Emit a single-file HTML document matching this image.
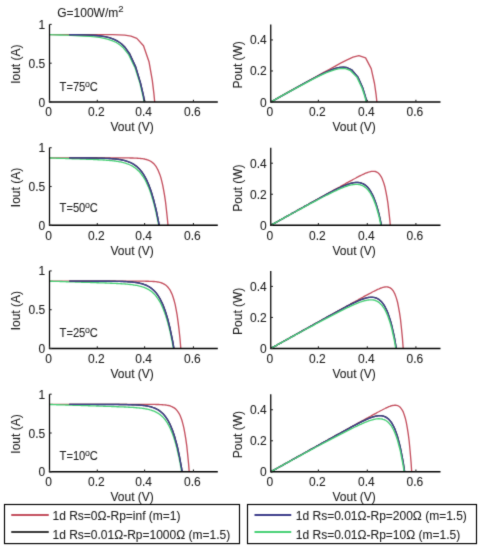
<!DOCTYPE html><html><head><meta charset="utf-8"><style>
html,body{margin:0;padding:0;background:#fff;}svg{display:block;}
text{font-family:"Liberation Sans",Arial,sans-serif;font-size:12px;fill:#1c1c1c;stroke:#1c1c1c;stroke-width:0.08px;}
</style></head><body>
<svg width="480" height="550" viewBox="0 0 480 550">
<defs><filter id="bl" x="0" y="0" width="480" height="550" filterUnits="userSpaceOnUse" color-interpolation-filters="sRGB"><feConvolveMatrix order="3" kernelMatrix="0.02 0.08 0.02 0.08 0.6 0.08 0.02 0.08 0.02" edgeMode="duplicate"/></filter></defs>
<rect width="480" height="550" fill="#fff"/>
<g filter="url(#bl)">
<rect width="480" height="550" fill="#fff"/>
<path d="M49.5,34.6 54.7,34.6 59.9,34.6 66.9,34.6 75.5,34.6 84.2,34.6 91.2,34.6 96.9,34.6 101.6,34.6 107.4,34.6 112.6,34.6 118.7,34.8 124.7,35.1 131.0,36.1 136.8,38.4 143.5,45.8 149.0,61.7 152.3,80.4 153.9,93.6 154.7,102.0" fill="none" stroke="#c4505f" stroke-width="1.35" stroke-linejoin="round"/>
<path d="M49.5,34.6 54.7,34.8 59.9,35.0 66.7,35.2 75.2,35.6 83.5,36.0 90.0,36.4 95.2,36.9 99.4,37.4 104.2,38.3 108.2,39.3 112.6,40.8 116.3,42.5 120.0,45.0 123.5,48.1 128.7,54.6 134.9,67.4 139.9,83.0 142.6,94.5 144.2,102.0" fill="none" stroke="#49d177" stroke-width="1.35" stroke-linejoin="round"/>
<path d="M69.2,34.6 75.5,34.7 84.1,34.9 90.8,35.1 96.2,35.5 100.5,35.9 105.5,36.7 109.7,37.7 114.1,39.3 117.8,41.2 121.4,43.8 124.9,47.1 129.8,54.0 135.8,67.1 140.5,82.9 143.2,94.4 144.7,102.0" fill="none" stroke="#383838" stroke-width="1.35" stroke-linejoin="round"/>
<path d="M69.2,34.7 75.5,34.7 84.1,34.9 90.8,35.2 96.2,35.5 100.5,36.0 105.5,36.8 109.6,37.8 114.0,39.4 117.7,41.3 121.4,43.8 124.8,47.2 129.7,54.0 135.7,67.1 140.5,82.9 143.2,94.4 144.7,102.0" fill="none" stroke="#3f3f8c" stroke-width="1.35" stroke-linejoin="round"/>
<path d="M49.50,24.40 V102.00" fill="none" stroke="#000" stroke-width="1.25"/>
<path d="M48.90,102.00 H217.80" fill="none" stroke="#000" stroke-width="1.5"/>
<path d="M49.50,102.00 V99.80" stroke="#2a2a2a" stroke-width="1.1"/>
<text x="48.50" y="116.30" text-anchor="middle">0</text>
<path d="M97.30,102.00 V99.80" stroke="#2a2a2a" stroke-width="1.1"/>
<text x="96.30" y="116.30" text-anchor="middle">0.2</text>
<path d="M144.60,102.00 V99.80" stroke="#2a2a2a" stroke-width="1.1"/>
<text x="143.60" y="116.30" text-anchor="middle">0.4</text>
<path d="M193.45,102.00 V99.80" stroke="#2a2a2a" stroke-width="1.1"/>
<text x="192.45" y="116.30" text-anchor="middle">0.6</text>
<path d="M49.50,102.00 H51.70" stroke="#2a2a2a" stroke-width="1.1"/>
<text x="45.30" y="106.50" text-anchor="end">0</text>
<path d="M49.50,63.20 H51.70" stroke="#2a2a2a" stroke-width="1.1"/>
<text x="45.30" y="67.70" text-anchor="end">0.5</text>
<path d="M49.50,24.40 H51.70" stroke="#2a2a2a" stroke-width="1.1"/>
<text x="45.30" y="28.90" text-anchor="end">1</text>
<text x="132.15" y="131.20" text-anchor="middle">Vout (V)</text>
<text transform="translate(20.20,64.20) rotate(-90)" text-anchor="middle">Iout (A)</text>
<path d="M270.8,102.0 276.0,99.1 281.3,96.1 288.3,92.2 297.0,87.3 305.8,82.5 312.8,78.6 318.5,75.4 323.3,72.7 329.1,69.5 334.4,66.6 340.6,63.2 346.6,60.1 353.0,57.2 358.9,55.7 365.6,57.9 371.2,68.6 374.5,83.5 376.1,94.7 376.9,102.0" fill="none" stroke="#c4505f" stroke-width="1.35" stroke-linejoin="round"/>
<path d="M270.8,102.0 276.0,99.1 281.3,96.1 288.3,92.2 297.0,87.4 305.6,82.6 312.5,78.9 317.9,76.1 322.3,73.9 327.3,71.5 331.5,69.7 335.9,68.2 339.7,67.4 343.3,67.1 346.8,67.5 351.7,69.8 357.8,76.9 362.6,87.5 365.3,96.1 366.8,102.0" fill="none" stroke="#383838" stroke-width="1.35" stroke-linejoin="round"/>
<path d="M270.8,102.0 276.0,99.1 281.3,96.1 288.3,92.3 297.0,87.4 305.6,82.7 312.4,79.0 317.9,76.1 322.2,73.9 327.2,71.6 331.4,69.8 335.9,68.3 339.6,67.4 343.3,67.1 346.8,67.6 351.7,69.9 357.8,76.9 362.6,87.5 365.3,96.1 366.8,102.0" fill="none" stroke="#3f3f8c" stroke-width="1.35" stroke-linejoin="round"/>
<path d="M270.8,102.0 276.0,99.1 281.2,96.2 288.1,92.4 296.6,87.8 305.1,83.3 311.6,79.8 316.9,77.2 321.1,75.2 325.9,72.9 330.0,71.3 334.4,69.8 338.2,68.9 341.9,68.4 345.5,68.7 350.6,70.7 357.0,77.4 361.9,87.7 364.7,96.1 366.3,102.0" fill="none" stroke="#49d177" stroke-width="1.35" stroke-linejoin="round"/>
<path d="M270.75,24.40 V102.00" fill="none" stroke="#000" stroke-width="1.25"/>
<path d="M270.15,102.00 H440.50" fill="none" stroke="#000" stroke-width="1.5"/>
<path d="M270.75,102.00 V99.80" stroke="#2a2a2a" stroke-width="1.1"/>
<text x="269.75" y="116.30" text-anchor="middle">0</text>
<path d="M318.40,102.00 V99.80" stroke="#2a2a2a" stroke-width="1.1"/>
<text x="317.40" y="116.30" text-anchor="middle">0.2</text>
<path d="M367.30,102.00 V99.80" stroke="#2a2a2a" stroke-width="1.1"/>
<text x="366.30" y="116.30" text-anchor="middle">0.4</text>
<path d="M415.90,102.00 V99.80" stroke="#2a2a2a" stroke-width="1.1"/>
<text x="414.90" y="116.30" text-anchor="middle">0.6</text>
<path d="M270.75,102.00 H272.95" stroke="#2a2a2a" stroke-width="1.1"/>
<text x="266.80" y="106.50" text-anchor="end">0</text>
<path d="M270.75,70.96 H272.95" stroke="#2a2a2a" stroke-width="1.1"/>
<text x="266.80" y="75.46" text-anchor="end">0.2</text>
<path d="M270.75,39.92 H272.95" stroke="#2a2a2a" stroke-width="1.1"/>
<text x="266.80" y="44.42" text-anchor="end">0.4</text>
<text x="354.12" y="131.20" text-anchor="middle">Vout (V)</text>
<text transform="translate(242.00,64.80) rotate(-90)" text-anchor="middle">Pout (W)</text>
<text transform="translate(59.6,90.50) scale(0.93,1)">T=75<tspan dy="-3.6" font-size="9.5px" dx="-0.3">o</tspan><tspan dy="3.6" dx="-0.2">C</tspan></text>
<path d="M49.5,157.9 50.5,157.9 51.4,157.9 52.4,157.9 53.3,157.9 54.3,157.9 55.3,157.9 56.2,157.9 57.2,157.9 58.1,157.9 59.1,157.9 60.1,157.9 61.0,157.9 62.0,157.9 62.9,157.9 63.9,157.9 64.8,157.9 65.8,157.9 66.8,157.9 67.7,157.9 68.7,157.9 69.6,157.9 70.6,157.9 71.6,157.9 72.5,157.9 73.5,157.9 74.4,157.9 75.4,157.9 76.4,157.9 77.3,157.9 78.3,157.9 79.2,157.9 80.2,157.9 81.2,157.9 82.1,157.9 83.1,157.9 84.0,157.9 85.0,157.9 85.9,157.9 86.9,157.9 87.9,157.9 88.8,157.9 89.8,157.9 90.7,157.9 91.7,157.9 92.7,157.9 93.6,157.9 94.6,157.9 95.5,157.9 96.5,157.9 97.5,157.9 98.4,157.9 99.4,157.9 100.3,157.9 101.3,157.9 102.3,157.9 103.2,157.9 104.2,157.9 105.1,157.9 106.1,157.9 107.1,157.9 108.0,157.9 109.0,157.9 109.9,157.9 110.9,157.9 111.8,157.9 112.8,157.9 113.8,157.9 114.7,157.9 115.7,157.9 116.6,157.9 117.6,157.9 118.6,157.9 119.5,157.9 120.5,157.9 121.4,157.9 122.4,157.9 123.4,157.9 124.3,157.9 125.3,157.9 126.2,157.9 127.2,157.9 128.2,157.9 129.1,157.9 130.1,158.0 131.0,158.0 132.0,158.0 133.0,158.0 133.9,158.1 134.9,158.1 135.8,158.1 136.8,158.2 137.7,158.2 138.7,158.3 139.7,158.4 140.6,158.5 141.6,158.6 142.5,158.7 143.5,158.9 144.5,159.0 145.4,159.3 146.4,159.5 147.3,159.8 148.3,160.2 149.3,160.6 150.2,161.0 151.2,161.6 152.1,162.3 153.1,163.1 154.1,164.0 155.0,165.1 156.0,166.4 156.9,168.0 157.9,169.8 158.8,171.9 159.8,174.4 160.8,177.4 161.7,180.9 162.7,185.1 163.6,189.9 164.6,195.7 165.6,202.5 166.5,210.5 167.5,220.0 168.0,225.3" fill="none" stroke="#c4505f" stroke-width="1.35" stroke-linejoin="round"/>
<path d="M49.5,157.9 50.5,158.0 51.4,158.0 52.4,158.0 53.3,158.1 54.3,158.1 55.3,158.1 56.2,158.2 57.2,158.2 58.1,158.2 59.1,158.2 60.1,158.3 61.0,158.3 62.0,158.3 62.9,158.4 63.9,158.4 64.8,158.4 65.8,158.5 66.8,158.5 67.7,158.5 68.7,158.6 69.6,158.6 70.6,158.6 71.6,158.7 72.5,158.7 73.5,158.7 74.4,158.8 75.4,158.8 76.4,158.8 77.3,158.9 78.3,158.9 79.2,158.9 80.2,159.0 81.2,159.0 82.1,159.0 83.1,159.1 84.0,159.1 85.0,159.1 85.9,159.2 86.9,159.2 87.9,159.2 88.8,159.3 89.8,159.3 90.7,159.4 91.7,159.4 92.7,159.4 93.6,159.5 94.6,159.5 95.5,159.6 96.5,159.6 97.5,159.7 98.4,159.7 99.4,159.8 100.3,159.8 101.3,159.9 102.3,159.9 103.2,160.0 104.2,160.0 105.1,160.1 106.1,160.2 107.1,160.2 108.0,160.3 109.0,160.4 109.9,160.5 110.9,160.6 111.8,160.7 112.8,160.8 113.8,160.9 114.7,161.0 115.7,161.1 116.6,161.3 117.6,161.4 118.6,161.6 119.5,161.8 120.5,161.9 121.4,162.1 122.4,162.4 123.4,162.6 124.3,162.9 125.3,163.1 126.2,163.4 127.2,163.8 128.2,164.1 129.1,164.5 130.1,165.0 131.0,165.4 132.0,165.9 133.0,166.5 133.9,167.1 134.9,167.8 135.8,168.5 136.8,169.3 137.7,170.2 138.7,171.1 139.7,172.1 140.6,173.2 141.6,174.5 142.5,175.8 143.5,177.2 144.5,178.8 145.4,180.5 146.4,182.4 147.3,184.4 148.3,186.6 149.3,189.0 150.2,191.6 151.2,194.4 152.1,197.5 153.1,200.7 154.1,204.3 155.0,208.1 156.0,212.1 156.9,216.5 157.9,221.2 158.7,225.3" fill="none" stroke="#49d177" stroke-width="1.35" stroke-linejoin="round"/>
<path d="M69.2,157.9 70.1,157.9 71.1,157.9 72.0,157.9 73.0,157.9 74.0,157.9 74.9,157.9 75.9,157.9 76.8,157.9 77.8,157.9 78.8,157.9 79.7,157.9 80.7,157.9 81.6,157.9 82.6,157.9 83.6,157.9 84.5,157.9 85.5,157.9 86.4,157.9 87.4,157.9 88.3,157.9 89.3,158.0 90.3,158.0 91.2,158.0 92.2,158.0 93.1,158.0 94.1,158.0 95.1,158.0 96.0,158.0 97.0,158.0 97.9,158.1 98.9,158.1 99.9,158.1 100.8,158.1 101.8,158.2 102.7,158.2 103.7,158.2 104.7,158.2 105.6,158.3 106.6,158.3 107.5,158.4 108.5,158.4 109.5,158.5 110.4,158.5 111.4,158.6 112.3,158.7 113.3,158.7 114.2,158.8 115.2,158.9 116.2,159.0 117.1,159.1 118.1,159.2 119.0,159.4 120.0,159.5 121.0,159.7 121.9,159.9 122.9,160.1 123.8,160.3 124.8,160.5 125.8,160.8 126.7,161.1 127.7,161.4 128.6,161.8 129.6,162.1 130.6,162.6 131.5,163.0 132.5,163.5 133.4,164.1 134.4,164.7 135.3,165.4 136.3,166.1 137.3,166.9 138.2,167.8 139.2,168.8 140.1,169.8 141.1,171.0 142.1,172.2 143.0,173.6 144.0,175.1 144.9,176.7 145.9,178.5 146.9,180.5 147.8,182.6 148.8,184.8 149.7,187.3 150.7,190.0 151.7,192.9 152.6,196.1 153.6,199.5 154.5,203.1 155.5,207.1 156.5,211.3 157.4,215.9 158.4,220.8 159.2,225.3" fill="none" stroke="#383838" stroke-width="1.35" stroke-linejoin="round"/>
<path d="M69.2,157.9 70.1,157.9 71.1,157.9 72.0,157.9 73.0,157.9 74.0,157.9 74.9,157.9 75.9,157.9 76.8,157.9 77.8,157.9 78.8,157.9 79.7,157.9 80.7,158.0 81.6,158.0 82.6,158.0 83.6,158.0 84.5,158.0 85.5,158.0 86.4,158.0 87.4,158.0 88.3,158.0 89.3,158.0 90.3,158.0 91.2,158.0 92.2,158.0 93.1,158.1 94.1,158.1 95.1,158.1 96.0,158.1 97.0,158.1 97.9,158.1 98.9,158.1 99.9,158.2 100.8,158.2 101.8,158.2 102.7,158.2 103.7,158.3 104.7,158.3 105.6,158.4 106.6,158.4 107.5,158.4 108.5,158.5 109.5,158.5 110.4,158.6 111.4,158.7 112.3,158.7 113.3,158.8 114.2,158.9 115.2,159.0 116.2,159.1 117.1,159.2 118.1,159.3 119.0,159.5 120.0,159.6 121.0,159.8 121.9,160.0 122.9,160.2 123.8,160.4 124.8,160.6 125.8,160.9 126.7,161.2 127.7,161.5 128.6,161.9 129.6,162.3 130.6,162.7 131.5,163.1 132.5,163.7 133.4,164.2 134.4,164.8 135.3,165.5 136.3,166.2 137.3,167.0 138.2,167.9 139.2,168.9 140.1,169.9 141.1,171.1 142.1,172.3 143.0,173.7 144.0,175.2 144.9,176.9 145.9,178.6 146.9,180.6 147.8,182.7 148.8,185.0 149.7,187.5 150.7,190.1 151.7,193.1 152.6,196.2 153.6,199.6 154.5,203.3 155.5,207.2 156.5,211.5 157.4,216.0 158.4,220.9 159.2,225.3" fill="none" stroke="#3f3f8c" stroke-width="1.35" stroke-linejoin="round"/>
<path d="M49.50,147.70 V225.30" fill="none" stroke="#000" stroke-width="1.25"/>
<path d="M48.90,225.30 H217.80" fill="none" stroke="#000" stroke-width="1.5"/>
<path d="M49.50,225.30 V223.10" stroke="#2a2a2a" stroke-width="1.1"/>
<text x="48.50" y="239.60" text-anchor="middle">0</text>
<path d="M97.30,225.30 V223.10" stroke="#2a2a2a" stroke-width="1.1"/>
<text x="96.30" y="239.60" text-anchor="middle">0.2</text>
<path d="M144.60,225.30 V223.10" stroke="#2a2a2a" stroke-width="1.1"/>
<text x="143.60" y="239.60" text-anchor="middle">0.4</text>
<path d="M193.45,225.30 V223.10" stroke="#2a2a2a" stroke-width="1.1"/>
<text x="192.45" y="239.60" text-anchor="middle">0.6</text>
<path d="M49.50,225.30 H51.70" stroke="#2a2a2a" stroke-width="1.1"/>
<text x="45.30" y="229.80" text-anchor="end">0</text>
<path d="M49.50,186.50 H51.70" stroke="#2a2a2a" stroke-width="1.1"/>
<text x="45.30" y="191.00" text-anchor="end">0.5</text>
<path d="M49.50,147.70 H51.70" stroke="#2a2a2a" stroke-width="1.1"/>
<text x="45.30" y="152.20" text-anchor="end">1</text>
<text x="132.15" y="254.50" text-anchor="middle">Vout (V)</text>
<text transform="translate(20.20,187.50) rotate(-90)" text-anchor="middle">Iout (A)</text>
<path d="M270.8,225.3 271.7,224.8 272.7,224.2 273.7,223.7 274.6,223.1 275.6,222.6 276.6,222.1 277.5,221.5 278.5,221.0 279.5,220.4 280.4,219.9 281.4,219.4 282.4,218.8 283.3,218.3 284.3,217.7 285.3,217.2 286.2,216.7 287.2,216.1 288.2,215.6 289.1,215.0 290.1,214.5 291.1,214.0 292.0,213.4 293.0,212.9 294.0,212.4 294.9,211.8 295.9,211.3 296.9,210.7 297.9,210.2 298.8,209.7 299.8,209.1 300.8,208.6 301.7,208.0 302.7,207.5 303.7,207.0 304.6,206.4 305.6,205.9 306.6,205.3 307.5,204.8 308.5,204.3 309.5,203.7 310.4,203.2 311.4,202.6 312.4,202.1 313.3,201.6 314.3,201.0 315.3,200.5 316.2,199.9 317.2,199.4 318.2,198.9 319.2,198.3 320.1,197.8 321.1,197.2 322.1,196.7 323.0,196.2 324.0,195.6 325.0,195.1 325.9,194.6 326.9,194.0 327.9,193.5 328.8,192.9 329.8,192.4 330.8,191.9 331.7,191.3 332.7,190.8 333.7,190.2 334.6,189.7 335.6,189.2 336.6,188.6 337.5,188.1 338.5,187.5 339.5,187.0 340.4,186.5 341.4,185.9 342.4,185.4 343.4,184.9 344.3,184.3 345.3,183.8 346.3,183.2 347.2,182.7 348.2,182.2 349.2,181.6 350.1,181.1 351.1,180.6 352.1,180.1 353.0,179.5 354.0,179.0 355.0,178.5 355.9,178.0 356.9,177.4 357.9,176.9 358.8,176.4 359.8,175.9 360.8,175.5 361.7,175.0 362.7,174.5 363.7,174.1 364.6,173.6 365.6,173.2 366.6,172.8 367.6,172.5 368.5,172.1 369.5,171.9 370.5,171.6 371.4,171.4 372.4,171.3 373.4,171.3 374.3,171.4 375.3,171.5 376.3,171.9 377.2,172.3 378.2,173.0 379.2,173.9 380.1,175.1 381.1,176.6 382.1,178.5 383.0,180.9 384.0,183.8 385.0,187.3 385.9,191.6 386.9,196.9 387.9,203.2 388.8,210.9 389.8,220.0 390.3,225.3" fill="none" stroke="#c4505f" stroke-width="1.35" stroke-linejoin="round"/>
<path d="M270.8,225.3 271.7,224.8 272.7,224.2 273.7,223.7 274.6,223.1 275.6,222.6 276.6,222.1 277.5,221.5 278.5,221.0 279.5,220.4 280.4,219.9 281.4,219.4 282.4,218.8 283.3,218.3 284.3,217.7 285.3,217.2 286.2,216.7 287.2,216.1 288.2,215.6 289.1,215.1 290.1,214.5 291.1,214.0 292.0,213.4 293.0,212.9 294.0,212.4 294.9,211.8 295.9,211.3 296.9,210.7 297.9,210.2 298.8,209.7 299.8,209.1 300.8,208.6 301.7,208.0 302.7,207.5 303.7,207.0 304.6,206.4 305.6,205.9 306.6,205.4 307.5,204.8 308.5,204.3 309.5,203.7 310.4,203.2 311.4,202.7 312.4,202.1 313.3,201.6 314.3,201.1 315.3,200.5 316.2,200.0 317.2,199.5 318.2,198.9 319.2,198.4 320.1,197.9 321.1,197.3 322.1,196.8 323.0,196.3 324.0,195.8 325.0,195.2 325.9,194.7 326.9,194.2 327.9,193.7 328.8,193.2 329.8,192.6 330.8,192.1 331.7,191.6 332.7,191.1 333.7,190.6 334.6,190.1 335.6,189.6 336.6,189.2 337.5,188.7 338.5,188.2 339.5,187.7 340.4,187.3 341.4,186.8 342.4,186.4 343.4,186.0 344.3,185.6 345.3,185.2 346.3,184.8 347.2,184.5 348.2,184.1 349.2,183.8 350.1,183.5 351.1,183.2 352.1,183.0 353.0,182.8 354.0,182.6 355.0,182.5 355.9,182.4 356.9,182.4 357.9,182.4 358.8,182.5 359.8,182.6 360.8,182.9 361.7,183.2 362.7,183.6 363.7,184.0 364.6,184.6 365.6,185.3 366.6,186.2 367.6,187.1 368.5,188.3 369.5,189.5 370.5,191.0 371.4,192.7 372.4,194.5 373.4,196.6 374.3,198.9 375.3,201.5 376.3,204.4 377.2,207.5 378.2,211.0 379.2,214.8 380.1,219.0 381.1,223.5 381.5,225.3" fill="none" stroke="#383838" stroke-width="1.35" stroke-linejoin="round"/>
<path d="M270.8,225.3 271.7,224.8 272.7,224.2 273.7,223.7 274.6,223.1 275.6,222.6 276.6,222.1 277.5,221.5 278.5,221.0 279.5,220.4 280.4,219.9 281.4,219.4 282.4,218.8 283.3,218.3 284.3,217.8 285.3,217.2 286.2,216.7 287.2,216.1 288.2,215.6 289.1,215.1 290.1,214.5 291.1,214.0 292.0,213.4 293.0,212.9 294.0,212.4 294.9,211.8 295.9,211.3 296.9,210.7 297.9,210.2 298.8,209.7 299.8,209.1 300.8,208.6 301.7,208.1 302.7,207.5 303.7,207.0 304.6,206.4 305.6,205.9 306.6,205.4 307.5,204.8 308.5,204.3 309.5,203.8 310.4,203.2 311.4,202.7 312.4,202.2 313.3,201.6 314.3,201.1 315.3,200.6 316.2,200.0 317.2,199.5 318.2,199.0 319.2,198.4 320.1,197.9 321.1,197.4 322.1,196.8 323.0,196.3 324.0,195.8 325.0,195.3 325.9,194.7 326.9,194.2 327.9,193.7 328.8,193.2 329.8,192.7 330.8,192.2 331.7,191.7 332.7,191.2 333.7,190.7 334.6,190.2 335.6,189.7 336.6,189.2 337.5,188.7 338.5,188.3 339.5,187.8 340.4,187.3 341.4,186.9 342.4,186.5 343.4,186.1 344.3,185.6 345.3,185.3 346.3,184.9 347.2,184.5 348.2,184.2 349.2,183.9 350.1,183.6 351.1,183.3 352.1,183.1 353.0,182.9 354.0,182.7 355.0,182.6 355.9,182.5 356.9,182.5 357.9,182.5 358.8,182.6 359.8,182.7 360.8,183.0 361.7,183.3 362.7,183.6 363.7,184.1 364.6,184.7 365.6,185.4 366.6,186.3 367.6,187.2 368.5,188.4 369.5,189.6 370.5,191.1 371.4,192.8 372.4,194.6 373.4,196.7 374.3,199.0 375.3,201.6 376.3,204.5 377.2,207.6 378.2,211.1 379.2,214.9 380.1,219.1 381.1,223.6 381.4,225.3" fill="none" stroke="#3f3f8c" stroke-width="1.35" stroke-linejoin="round"/>
<path d="M270.8,225.3 271.7,224.8 272.7,224.2 273.7,223.7 274.6,223.1 275.6,222.6 276.6,222.1 277.5,221.5 278.5,221.0 279.5,220.5 280.4,219.9 281.4,219.4 282.4,218.9 283.3,218.3 284.3,217.8 285.3,217.3 286.2,216.7 287.2,216.2 288.2,215.7 289.1,215.2 290.1,214.6 291.1,214.1 292.0,213.6 293.0,213.0 294.0,212.5 294.9,212.0 295.9,211.5 296.9,210.9 297.9,210.4 298.8,209.9 299.8,209.4 300.8,208.8 301.7,208.3 302.7,207.8 303.7,207.3 304.6,206.8 305.6,206.2 306.6,205.7 307.5,205.2 308.5,204.7 309.5,204.2 310.4,203.6 311.4,203.1 312.4,202.6 313.3,202.1 314.3,201.6 315.3,201.1 316.2,200.6 317.2,200.1 318.2,199.5 319.2,199.0 320.1,198.5 321.1,198.0 322.1,197.5 323.0,197.0 324.0,196.5 325.0,196.0 325.9,195.5 326.9,195.0 327.9,194.6 328.8,194.1 329.8,193.6 330.8,193.1 331.7,192.6 332.7,192.2 333.7,191.7 334.6,191.2 335.6,190.8 336.6,190.3 337.5,189.9 338.5,189.4 339.5,189.0 340.4,188.6 341.4,188.2 342.4,187.8 343.4,187.4 344.3,187.0 345.3,186.7 346.3,186.3 347.2,186.0 348.2,185.7 349.2,185.4 350.1,185.2 351.1,184.9 352.1,184.8 353.0,184.6 354.0,184.5 355.0,184.4 355.9,184.3 356.9,184.3 357.9,184.4 358.8,184.5 359.8,184.7 360.8,185.0 361.7,185.3 362.7,185.7 363.7,186.3 364.6,186.9 365.6,187.6 366.6,188.5 367.6,189.5 368.5,190.6 369.5,192.0 370.5,193.5 371.4,195.1 372.4,197.0 373.4,199.1 374.3,201.5 375.3,204.1 376.3,206.9 377.2,210.1 378.2,213.6 379.2,217.4 380.1,221.6 380.9,225.3" fill="none" stroke="#49d177" stroke-width="1.35" stroke-linejoin="round"/>
<path d="M270.75,147.70 V225.30" fill="none" stroke="#000" stroke-width="1.25"/>
<path d="M270.15,225.30 H440.50" fill="none" stroke="#000" stroke-width="1.5"/>
<path d="M270.75,225.30 V223.10" stroke="#2a2a2a" stroke-width="1.1"/>
<text x="269.75" y="239.60" text-anchor="middle">0</text>
<path d="M318.40,225.30 V223.10" stroke="#2a2a2a" stroke-width="1.1"/>
<text x="317.40" y="239.60" text-anchor="middle">0.2</text>
<path d="M367.30,225.30 V223.10" stroke="#2a2a2a" stroke-width="1.1"/>
<text x="366.30" y="239.60" text-anchor="middle">0.4</text>
<path d="M415.90,225.30 V223.10" stroke="#2a2a2a" stroke-width="1.1"/>
<text x="414.90" y="239.60" text-anchor="middle">0.6</text>
<path d="M270.75,225.30 H272.95" stroke="#2a2a2a" stroke-width="1.1"/>
<text x="266.80" y="229.80" text-anchor="end">0</text>
<path d="M270.75,194.26 H272.95" stroke="#2a2a2a" stroke-width="1.1"/>
<text x="266.80" y="198.76" text-anchor="end">0.2</text>
<path d="M270.75,163.22 H272.95" stroke="#2a2a2a" stroke-width="1.1"/>
<text x="266.80" y="167.72" text-anchor="end">0.4</text>
<text x="354.12" y="254.50" text-anchor="middle">Vout (V)</text>
<text transform="translate(242.00,188.10) rotate(-90)" text-anchor="middle">Pout (W)</text>
<text transform="translate(59.6,212.00) scale(0.93,1)">T=50<tspan dy="-3.6" font-size="9.5px" dx="-0.3">o</tspan><tspan dy="3.6" dx="-0.2">C</tspan></text>
<path d="M49.5,281.1 50.5,281.1 51.4,281.1 52.4,281.1 53.3,281.1 54.3,281.1 55.3,281.1 56.2,281.1 57.2,281.1 58.1,281.1 59.1,281.1 60.1,281.1 61.0,281.1 62.0,281.1 62.9,281.1 63.9,281.1 64.8,281.1 65.8,281.1 66.8,281.1 67.7,281.1 68.7,281.1 69.6,281.1 70.6,281.1 71.6,281.1 72.5,281.1 73.5,281.1 74.4,281.1 75.4,281.1 76.4,281.1 77.3,281.1 78.3,281.1 79.2,281.1 80.2,281.1 81.2,281.1 82.1,281.1 83.1,281.1 84.0,281.1 85.0,281.1 85.9,281.1 86.9,281.1 87.9,281.1 88.8,281.1 89.8,281.1 90.7,281.1 91.7,281.1 92.7,281.1 93.6,281.1 94.6,281.1 95.5,281.1 96.5,281.1 97.5,281.1 98.4,281.1 99.4,281.1 100.3,281.1 101.3,281.1 102.3,281.1 103.2,281.1 104.2,281.1 105.1,281.1 106.1,281.1 107.1,281.1 108.0,281.1 109.0,281.1 109.9,281.1 110.9,281.1 111.8,281.1 112.8,281.1 113.8,281.1 114.7,281.1 115.7,281.1 116.6,281.1 117.6,281.1 118.6,281.1 119.5,281.1 120.5,281.1 121.4,281.1 122.4,281.1 123.4,281.1 124.3,281.1 125.3,281.1 126.2,281.1 127.2,281.1 128.2,281.1 129.1,281.1 130.1,281.1 131.0,281.1 132.0,281.1 133.0,281.1 133.9,281.1 134.9,281.1 135.8,281.1 136.8,281.1 137.7,281.1 138.7,281.1 139.7,281.1 140.6,281.1 141.6,281.1 142.5,281.1 143.5,281.1 144.5,281.1 145.4,281.2 146.4,281.2 147.3,281.2 148.3,281.2 149.3,281.3 150.2,281.3 151.2,281.3 152.1,281.4 153.1,281.5 154.1,281.5 155.0,281.6 156.0,281.7 156.9,281.9 157.9,282.0 158.8,282.2 159.8,282.4 160.8,282.7 161.7,283.0 162.7,283.4 163.6,283.8 164.6,284.4 165.6,285.0 166.5,285.8 167.5,286.7 168.4,287.8 169.4,289.1 170.4,290.7 171.3,292.6 172.3,294.8 173.2,297.5 174.2,300.8 175.2,304.6 176.1,309.3 177.1,314.8 178.0,321.4 179.0,329.3 180.0,338.7 180.8,348.5" fill="none" stroke="#c4505f" stroke-width="1.35" stroke-linejoin="round"/>
<path d="M49.5,281.1 50.5,281.2 51.4,281.2 52.4,281.2 53.3,281.3 54.3,281.3 55.3,281.3 56.2,281.4 57.2,281.4 58.1,281.4 59.1,281.4 60.1,281.5 61.0,281.5 62.0,281.5 62.9,281.6 63.9,281.6 64.8,281.6 65.8,281.7 66.8,281.7 67.7,281.7 68.7,281.8 69.6,281.8 70.6,281.8 71.6,281.8 72.5,281.9 73.5,281.9 74.4,281.9 75.4,282.0 76.4,282.0 77.3,282.0 78.3,282.1 79.2,282.1 80.2,282.1 81.2,282.2 82.1,282.2 83.1,282.2 84.0,282.3 85.0,282.3 85.9,282.3 86.9,282.3 87.9,282.4 88.8,282.4 89.8,282.4 90.7,282.5 91.7,282.5 92.7,282.5 93.6,282.6 94.6,282.6 95.5,282.6 96.5,282.7 97.5,282.7 98.4,282.7 99.4,282.8 100.3,282.8 101.3,282.8 102.3,282.9 103.2,282.9 104.2,282.9 105.1,283.0 106.1,283.0 107.1,283.1 108.0,283.1 109.0,283.1 109.9,283.2 110.9,283.2 111.8,283.2 112.8,283.3 113.8,283.3 114.7,283.4 115.7,283.4 116.6,283.5 117.6,283.5 118.6,283.6 119.5,283.6 120.5,283.7 121.4,283.7 122.4,283.8 123.4,283.9 124.3,283.9 125.3,284.0 126.2,284.1 127.2,284.2 128.2,284.3 129.1,284.4 130.1,284.5 131.0,284.6 132.0,284.7 133.0,284.8 133.9,285.0 134.9,285.1 135.8,285.3 136.8,285.4 137.7,285.6 138.7,285.8 139.7,286.1 140.6,286.3 141.6,286.6 142.5,286.9 143.5,287.2 144.5,287.6 145.4,288.0 146.4,288.4 147.3,288.9 148.3,289.4 149.3,290.0 150.2,290.6 151.2,291.3 152.1,292.1 153.1,293.0 154.1,293.9 155.0,294.9 156.0,296.0 156.9,297.3 157.9,298.6 158.8,300.1 159.8,301.7 160.8,303.5 161.7,305.5 162.7,307.6 163.6,309.9 164.6,312.5 165.6,315.2 166.5,318.2 167.5,321.5 168.4,325.1 169.4,328.9 170.4,333.1 171.3,337.6 172.3,342.4 173.2,347.6 173.4,348.5" fill="none" stroke="#49d177" stroke-width="1.35" stroke-linejoin="round"/>
<path d="M69.2,281.1 70.1,281.1 71.1,281.1 72.0,281.1 73.0,281.1 74.0,281.1 74.9,281.1 75.9,281.1 76.8,281.1 77.8,281.1 78.8,281.1 79.7,281.1 80.7,281.1 81.6,281.1 82.6,281.1 83.6,281.1 84.5,281.1 85.5,281.1 86.4,281.1 87.4,281.1 88.3,281.1 89.3,281.1 90.3,281.1 91.2,281.1 92.2,281.1 93.1,281.1 94.1,281.1 95.1,281.1 96.0,281.1 97.0,281.1 97.9,281.1 98.9,281.1 99.9,281.1 100.8,281.1 101.8,281.1 102.7,281.1 103.7,281.1 104.7,281.1 105.6,281.1 106.6,281.1 107.5,281.1 108.5,281.2 109.5,281.2 110.4,281.2 111.4,281.2 112.3,281.2 113.3,281.2 114.2,281.2 115.2,281.2 116.2,281.3 117.1,281.3 118.1,281.3 119.0,281.3 120.0,281.3 121.0,281.4 121.9,281.4 122.9,281.4 123.8,281.5 124.8,281.5 125.8,281.5 126.7,281.6 127.7,281.7 128.6,281.7 129.6,281.8 130.6,281.9 131.5,281.9 132.5,282.0 133.4,282.1 134.4,282.3 135.3,282.4 136.3,282.5 137.3,282.7 138.2,282.9 139.2,283.0 140.1,283.3 141.1,283.5 142.1,283.7 143.0,284.0 144.0,284.4 144.9,284.7 145.9,285.1 146.9,285.5 147.8,286.0 148.8,286.5 149.7,287.1 150.7,287.8 151.7,288.5 152.6,289.3 153.6,290.1 154.5,291.1 155.5,292.1 156.5,293.3 157.4,294.6 158.4,296.0 159.3,297.5 160.3,299.2 161.2,301.1 162.2,303.1 163.2,305.3 164.1,307.8 165.1,310.4 166.0,313.3 167.0,316.5 168.0,319.9 168.9,323.6 169.9,327.6 170.8,331.9 171.8,336.6 172.8,341.7 173.7,347.1 174.0,348.5" fill="none" stroke="#383838" stroke-width="1.35" stroke-linejoin="round"/>
<path d="M69.2,281.1 70.1,281.1 71.1,281.1 72.0,281.1 73.0,281.1 74.0,281.1 74.9,281.1 75.9,281.1 76.8,281.1 77.8,281.1 78.8,281.1 79.7,281.1 80.7,281.1 81.6,281.1 82.6,281.1 83.6,281.1 84.5,281.1 85.5,281.1 86.4,281.1 87.4,281.1 88.3,281.1 89.3,281.1 90.3,281.1 91.2,281.1 92.2,281.2 93.1,281.2 94.1,281.2 95.1,281.2 96.0,281.2 97.0,281.2 97.9,281.2 98.9,281.2 99.9,281.2 100.8,281.2 101.8,281.2 102.7,281.2 103.7,281.2 104.7,281.2 105.6,281.2 106.6,281.2 107.5,281.2 108.5,281.2 109.5,281.2 110.4,281.3 111.4,281.3 112.3,281.3 113.3,281.3 114.2,281.3 115.2,281.3 116.2,281.3 117.1,281.4 118.1,281.4 119.0,281.4 120.0,281.4 121.0,281.5 121.9,281.5 122.9,281.5 123.8,281.6 124.8,281.6 125.8,281.6 126.7,281.7 127.7,281.8 128.6,281.8 129.6,281.9 130.6,282.0 131.5,282.1 132.5,282.1 133.4,282.3 134.4,282.4 135.3,282.5 136.3,282.6 137.3,282.8 138.2,283.0 139.2,283.2 140.1,283.4 141.1,283.6 142.1,283.9 143.0,284.2 144.0,284.5 144.9,284.8 145.9,285.2 146.9,285.7 147.8,286.1 148.8,286.7 149.7,287.2 150.7,287.9 151.7,288.6 152.6,289.4 153.6,290.3 154.5,291.2 155.5,292.3 156.5,293.4 157.4,294.7 158.4,296.1 159.3,297.7 160.3,299.3 161.2,301.2 162.2,303.2 163.2,305.5 164.1,307.9 165.1,310.5 166.0,313.4 167.0,316.6 168.0,320.0 168.9,323.7 169.9,327.7 170.8,332.1 171.8,336.8 172.8,341.8 173.7,347.2 173.9,348.5" fill="none" stroke="#3f3f8c" stroke-width="1.35" stroke-linejoin="round"/>
<path d="M49.50,270.90 V348.50" fill="none" stroke="#000" stroke-width="1.25"/>
<path d="M48.90,348.50 H217.80" fill="none" stroke="#000" stroke-width="1.5"/>
<path d="M49.50,348.50 V346.30" stroke="#2a2a2a" stroke-width="1.1"/>
<text x="48.50" y="362.80" text-anchor="middle">0</text>
<path d="M97.30,348.50 V346.30" stroke="#2a2a2a" stroke-width="1.1"/>
<text x="96.30" y="362.80" text-anchor="middle">0.2</text>
<path d="M144.60,348.50 V346.30" stroke="#2a2a2a" stroke-width="1.1"/>
<text x="143.60" y="362.80" text-anchor="middle">0.4</text>
<path d="M193.45,348.50 V346.30" stroke="#2a2a2a" stroke-width="1.1"/>
<text x="192.45" y="362.80" text-anchor="middle">0.6</text>
<path d="M49.50,348.50 H51.70" stroke="#2a2a2a" stroke-width="1.1"/>
<text x="45.30" y="353.00" text-anchor="end">0</text>
<path d="M49.50,309.70 H51.70" stroke="#2a2a2a" stroke-width="1.1"/>
<text x="45.30" y="314.20" text-anchor="end">0.5</text>
<path d="M49.50,270.90 H51.70" stroke="#2a2a2a" stroke-width="1.1"/>
<text x="45.30" y="275.40" text-anchor="end">1</text>
<text x="132.15" y="377.70" text-anchor="middle">Vout (V)</text>
<text transform="translate(20.20,310.70) rotate(-90)" text-anchor="middle">Iout (A)</text>
<path d="M270.8,348.5 271.7,348.0 272.7,347.4 273.7,346.9 274.6,346.3 275.6,345.8 276.6,345.3 277.5,344.7 278.5,344.2 279.5,343.6 280.4,343.1 281.4,342.6 282.4,342.0 283.3,341.5 284.3,340.9 285.3,340.4 286.2,339.9 287.2,339.3 288.2,338.8 289.1,338.2 290.1,337.7 291.1,337.2 292.0,336.6 293.0,336.1 294.0,335.6 294.9,335.0 295.9,334.5 296.9,333.9 297.9,333.4 298.8,332.9 299.8,332.3 300.8,331.8 301.7,331.2 302.7,330.7 303.7,330.2 304.6,329.6 305.6,329.1 306.6,328.5 307.5,328.0 308.5,327.5 309.5,326.9 310.4,326.4 311.4,325.8 312.4,325.3 313.3,324.8 314.3,324.2 315.3,323.7 316.2,323.1 317.2,322.6 318.2,322.1 319.2,321.5 320.1,321.0 321.1,320.4 322.1,319.9 323.0,319.4 324.0,318.8 325.0,318.3 325.9,317.7 326.9,317.2 327.9,316.7 328.8,316.1 329.8,315.6 330.8,315.1 331.7,314.5 332.7,314.0 333.7,313.4 334.6,312.9 335.6,312.4 336.6,311.8 337.5,311.3 338.5,310.7 339.5,310.2 340.4,309.7 341.4,309.1 342.4,308.6 343.4,308.0 344.3,307.5 345.3,307.0 346.3,306.4 347.2,305.9 348.2,305.3 349.2,304.8 350.1,304.3 351.1,303.7 352.1,303.2 353.0,302.6 354.0,302.1 355.0,301.6 355.9,301.0 356.9,300.5 357.9,300.0 358.8,299.4 359.8,298.9 360.8,298.3 361.7,297.8 362.7,297.3 363.7,296.7 364.6,296.2 365.6,295.7 366.6,295.2 367.6,294.6 368.5,294.1 369.5,293.6 370.5,293.1 371.4,292.6 372.4,292.0 373.4,291.5 374.3,291.1 375.3,290.6 376.3,290.1 377.2,289.6 378.2,289.2 379.2,288.8 380.1,288.4 381.1,288.0 382.1,287.7 383.0,287.4 384.0,287.2 385.0,287.0 385.9,286.9 386.9,286.9 387.9,287.0 388.8,287.3 389.8,287.7 390.8,288.3 391.8,289.1 392.7,290.2 393.7,291.7 394.7,293.6 395.6,295.9 396.6,298.9 397.6,302.5 398.5,307.1 399.5,312.6 400.5,319.4 401.4,327.7 402.4,337.9 403.2,348.5" fill="none" stroke="#c4505f" stroke-width="1.35" stroke-linejoin="round"/>
<path d="M270.8,348.5 271.7,348.0 272.7,347.4 273.7,346.9 274.6,346.3 275.6,345.8 276.6,345.3 277.5,344.7 278.5,344.2 279.5,343.6 280.4,343.1 281.4,342.6 282.4,342.0 283.3,341.5 284.3,340.9 285.3,340.4 286.2,339.9 287.2,339.3 288.2,338.8 289.1,338.3 290.1,337.7 291.1,337.2 292.0,336.6 293.0,336.1 294.0,335.6 294.9,335.0 295.9,334.5 296.9,333.9 297.9,333.4 298.8,332.9 299.8,332.3 300.8,331.8 301.7,331.2 302.7,330.7 303.7,330.2 304.6,329.6 305.6,329.1 306.6,328.5 307.5,328.0 308.5,327.5 309.5,326.9 310.4,326.4 311.4,325.8 312.4,325.3 313.3,324.8 314.3,324.2 315.3,323.7 316.2,323.2 317.2,322.6 318.2,322.1 319.2,321.5 320.1,321.0 321.1,320.5 322.1,319.9 323.0,319.4 324.0,318.9 325.0,318.3 325.9,317.8 326.9,317.2 327.9,316.7 328.8,316.2 329.8,315.6 330.8,315.1 331.7,314.6 332.7,314.0 333.7,313.5 334.6,313.0 335.6,312.4 336.6,311.9 337.5,311.4 338.5,310.8 339.5,310.3 340.4,309.8 341.4,309.3 342.4,308.7 343.4,308.2 344.3,307.7 345.3,307.2 346.3,306.7 347.2,306.2 348.2,305.7 349.2,305.2 350.1,304.7 351.1,304.2 352.1,303.7 353.0,303.2 354.0,302.7 355.0,302.3 355.9,301.8 356.9,301.4 357.9,300.9 358.8,300.5 359.8,300.1 360.8,299.7 361.7,299.4 362.7,299.0 363.7,298.7 364.6,298.4 365.6,298.1 366.6,297.8 367.6,297.6 368.5,297.4 369.5,297.3 370.5,297.2 371.4,297.2 372.4,297.2 373.4,297.3 374.3,297.4 375.3,297.7 376.3,298.0 377.2,298.4 378.2,299.0 379.2,299.6 380.1,300.4 381.1,301.3 382.1,302.4 383.0,303.6 384.0,305.0 385.0,306.7 385.9,308.5 386.9,310.6 387.9,313.0 388.8,315.7 389.8,318.6 390.8,321.9 391.8,325.6 392.7,329.6 393.7,334.0 394.7,338.9 395.6,344.2 396.3,348.5" fill="none" stroke="#383838" stroke-width="1.35" stroke-linejoin="round"/>
<path d="M270.8,348.5 271.7,348.0 272.7,347.4 273.7,346.9 274.6,346.3 275.6,345.8 276.6,345.3 277.5,344.7 278.5,344.2 279.5,343.6 280.4,343.1 281.4,342.6 282.4,342.0 283.3,341.5 284.3,341.0 285.3,340.4 286.2,339.9 287.2,339.3 288.2,338.8 289.1,338.3 290.1,337.7 291.1,337.2 292.0,336.6 293.0,336.1 294.0,335.6 294.9,335.0 295.9,334.5 296.9,333.9 297.9,333.4 298.8,332.9 299.8,332.3 300.8,331.8 301.7,331.3 302.7,330.7 303.7,330.2 304.6,329.6 305.6,329.1 306.6,328.6 307.5,328.0 308.5,327.5 309.5,326.9 310.4,326.4 311.4,325.9 312.4,325.3 313.3,324.8 314.3,324.3 315.3,323.7 316.2,323.2 317.2,322.6 318.2,322.1 319.2,321.6 320.1,321.0 321.1,320.5 322.1,320.0 323.0,319.4 324.0,318.9 325.0,318.3 325.9,317.8 326.9,317.3 327.9,316.7 328.8,316.2 329.8,315.7 330.8,315.1 331.7,314.6 332.7,314.1 333.7,313.5 334.6,313.0 335.6,312.5 336.6,312.0 337.5,311.4 338.5,310.9 339.5,310.4 340.4,309.8 341.4,309.3 342.4,308.8 343.4,308.3 344.3,307.8 345.3,307.3 346.3,306.7 347.2,306.2 348.2,305.7 349.2,305.2 350.1,304.7 351.1,304.2 352.1,303.8 353.0,303.3 354.0,302.8 355.0,302.4 355.9,301.9 356.9,301.5 357.9,301.0 358.8,300.6 359.8,300.2 360.8,299.8 361.7,299.4 362.7,299.1 363.7,298.8 364.6,298.5 365.6,298.2 366.6,297.9 367.6,297.7 368.5,297.5 369.5,297.4 370.5,297.3 371.4,297.3 372.4,297.3 373.4,297.4 374.3,297.6 375.3,297.8 376.3,298.1 377.2,298.5 378.2,299.1 379.2,299.7 380.1,300.5 381.1,301.4 382.1,302.5 383.0,303.7 384.0,305.2 385.0,306.8 385.9,308.7 386.9,310.8 387.9,313.1 388.8,315.8 389.8,318.7 390.8,322.0 391.8,325.7 392.7,329.7 393.7,334.1 394.7,339.0 395.6,344.3 396.3,348.5" fill="none" stroke="#3f3f8c" stroke-width="1.35" stroke-linejoin="round"/>
<path d="M270.8,348.5 271.7,348.0 272.7,347.4 273.7,346.9 274.6,346.3 275.6,345.8 276.6,345.3 277.5,344.7 278.5,344.2 279.5,343.7 280.4,343.1 281.4,342.6 282.4,342.1 283.3,341.5 284.3,341.0 285.3,340.5 286.2,339.9 287.2,339.4 288.2,338.9 289.1,338.3 290.1,337.8 291.1,337.3 292.0,336.8 293.0,336.2 294.0,335.7 294.9,335.2 295.9,334.7 296.9,334.1 297.9,333.6 298.8,333.1 299.8,332.6 300.8,332.0 301.7,331.5 302.7,331.0 303.7,330.5 304.6,329.9 305.6,329.4 306.6,328.9 307.5,328.4 308.5,327.9 309.5,327.3 310.4,326.8 311.4,326.3 312.4,325.8 313.3,325.3 314.3,324.8 315.3,324.2 316.2,323.7 317.2,323.2 318.2,322.7 319.2,322.2 320.1,321.7 321.1,321.2 322.1,320.6 323.0,320.1 324.0,319.6 325.0,319.1 325.9,318.6 326.9,318.1 327.9,317.6 328.8,317.1 329.8,316.6 330.8,316.1 331.7,315.6 332.7,315.1 333.7,314.6 334.6,314.1 335.6,313.6 336.6,313.1 337.5,312.6 338.5,312.1 339.5,311.6 340.4,311.1 341.4,310.6 342.4,310.1 343.4,309.6 344.3,309.2 345.3,308.7 346.3,308.2 347.2,307.7 348.2,307.3 349.2,306.8 350.1,306.4 351.1,305.9 352.1,305.5 353.0,305.0 354.0,304.6 355.0,304.2 355.9,303.8 356.9,303.4 357.9,303.0 358.8,302.6 359.8,302.2 360.8,301.9 361.7,301.6 362.7,301.2 363.7,301.0 364.6,300.7 365.6,300.5 366.6,300.3 367.6,300.1 368.5,300.0 369.5,299.9 370.5,299.8 371.4,299.8 372.4,299.9 373.4,300.0 374.3,300.2 375.3,300.5 376.3,300.9 377.2,301.3 378.2,301.9 379.2,302.6 380.1,303.4 381.1,304.4 382.1,305.5 383.0,306.8 384.0,308.2 385.0,309.9 385.9,311.8 386.9,313.9 387.9,316.3 388.8,319.0 389.8,321.9 390.8,325.3 391.8,328.9 392.7,333.0 393.7,337.4 394.7,342.3 395.6,347.6 395.8,348.5" fill="none" stroke="#49d177" stroke-width="1.35" stroke-linejoin="round"/>
<path d="M270.75,270.90 V348.50" fill="none" stroke="#000" stroke-width="1.25"/>
<path d="M270.15,348.50 H440.50" fill="none" stroke="#000" stroke-width="1.5"/>
<path d="M270.75,348.50 V346.30" stroke="#2a2a2a" stroke-width="1.1"/>
<text x="269.75" y="362.80" text-anchor="middle">0</text>
<path d="M318.40,348.50 V346.30" stroke="#2a2a2a" stroke-width="1.1"/>
<text x="317.40" y="362.80" text-anchor="middle">0.2</text>
<path d="M367.30,348.50 V346.30" stroke="#2a2a2a" stroke-width="1.1"/>
<text x="366.30" y="362.80" text-anchor="middle">0.4</text>
<path d="M415.90,348.50 V346.30" stroke="#2a2a2a" stroke-width="1.1"/>
<text x="414.90" y="362.80" text-anchor="middle">0.6</text>
<path d="M270.75,348.50 H272.95" stroke="#2a2a2a" stroke-width="1.1"/>
<text x="266.80" y="353.00" text-anchor="end">0</text>
<path d="M270.75,317.46 H272.95" stroke="#2a2a2a" stroke-width="1.1"/>
<text x="266.80" y="321.96" text-anchor="end">0.2</text>
<path d="M270.75,286.42 H272.95" stroke="#2a2a2a" stroke-width="1.1"/>
<text x="266.80" y="290.92" text-anchor="end">0.4</text>
<text x="354.12" y="377.70" text-anchor="middle">Vout (V)</text>
<text transform="translate(242.00,311.30) rotate(-90)" text-anchor="middle">Pout (W)</text>
<text transform="translate(59.6,337.00) scale(0.93,1)">T=25<tspan dy="-3.6" font-size="9.5px" dx="-0.3">o</tspan><tspan dy="3.6" dx="-0.2">C</tspan></text>
<path d="M49.5,404.4 50.5,404.4 51.4,404.4 52.4,404.4 53.3,404.4 54.3,404.4 55.3,404.4 56.2,404.4 57.2,404.4 58.1,404.4 59.1,404.4 60.1,404.4 61.0,404.4 62.0,404.4 62.9,404.4 63.9,404.4 64.8,404.4 65.8,404.4 66.8,404.4 67.7,404.4 68.7,404.4 69.6,404.4 70.6,404.4 71.6,404.4 72.5,404.4 73.5,404.4 74.4,404.4 75.4,404.4 76.4,404.4 77.3,404.4 78.3,404.4 79.2,404.4 80.2,404.4 81.2,404.4 82.1,404.4 83.1,404.4 84.0,404.4 85.0,404.4 85.9,404.4 86.9,404.4 87.9,404.4 88.8,404.4 89.8,404.4 90.7,404.4 91.7,404.4 92.7,404.4 93.6,404.4 94.6,404.4 95.5,404.4 96.5,404.4 97.5,404.4 98.4,404.4 99.4,404.4 100.3,404.4 101.3,404.4 102.3,404.4 103.2,404.4 104.2,404.4 105.1,404.4 106.1,404.4 107.1,404.4 108.0,404.4 109.0,404.4 109.9,404.4 110.9,404.4 111.8,404.4 112.8,404.4 113.8,404.4 114.7,404.4 115.7,404.4 116.6,404.4 117.6,404.4 118.6,404.4 119.5,404.4 120.5,404.4 121.4,404.4 122.4,404.4 123.4,404.4 124.3,404.4 125.3,404.4 126.2,404.4 127.2,404.4 128.2,404.4 129.1,404.4 130.1,404.4 131.0,404.4 132.0,404.4 133.0,404.4 133.9,404.4 134.9,404.4 135.8,404.4 136.8,404.4 137.7,404.4 138.7,404.4 139.7,404.4 140.6,404.4 141.6,404.4 142.5,404.4 143.5,404.4 144.5,404.4 145.4,404.4 146.4,404.4 147.3,404.4 148.3,404.4 149.3,404.4 150.2,404.4 151.2,404.4 152.1,404.4 153.1,404.4 154.1,404.4 155.0,404.4 156.0,404.5 156.9,404.5 157.9,404.5 158.8,404.5 159.8,404.6 160.8,404.6 161.7,404.7 162.7,404.7 163.6,404.8 164.6,404.9 165.6,405.0 166.5,405.1 167.5,405.3 168.4,405.5 169.4,405.7 170.4,406.0 171.3,406.4 172.3,406.8 173.2,407.3 174.2,407.9 175.2,408.6 176.1,409.5 177.1,410.6 178.0,411.9 179.0,413.4 180.0,415.3 180.9,417.6 181.9,420.3 182.8,423.6 183.8,427.6 184.7,432.4 185.7,438.3 186.7,445.3 187.6,453.8 188.6,464.0 189.2,471.8" fill="none" stroke="#c4505f" stroke-width="1.35" stroke-linejoin="round"/>
<path d="M49.5,404.4 50.5,404.5 51.4,404.5 52.4,404.5 53.3,404.6 54.3,404.6 55.3,404.6 56.2,404.7 57.2,404.7 58.1,404.7 59.1,404.7 60.1,404.8 61.0,404.8 62.0,404.8 62.9,404.9 63.9,404.9 64.8,404.9 65.8,405.0 66.8,405.0 67.7,405.0 68.7,405.1 69.6,405.1 70.6,405.1 71.6,405.1 72.5,405.2 73.5,405.2 74.4,405.2 75.4,405.3 76.4,405.3 77.3,405.3 78.3,405.4 79.2,405.4 80.2,405.4 81.2,405.5 82.1,405.5 83.1,405.5 84.0,405.6 85.0,405.6 85.9,405.6 86.9,405.6 87.9,405.7 88.8,405.7 89.8,405.7 90.7,405.8 91.7,405.8 92.7,405.8 93.6,405.9 94.6,405.9 95.5,405.9 96.5,406.0 97.5,406.0 98.4,406.0 99.4,406.1 100.3,406.1 101.3,406.1 102.3,406.1 103.2,406.2 104.2,406.2 105.1,406.2 106.1,406.3 107.1,406.3 108.0,406.3 109.0,406.4 109.9,406.4 110.9,406.4 111.8,406.5 112.8,406.5 113.8,406.5 114.7,406.6 115.7,406.6 116.6,406.7 117.6,406.7 118.6,406.7 119.5,406.8 120.5,406.8 121.4,406.8 122.4,406.9 123.4,406.9 124.3,407.0 125.3,407.0 126.2,407.1 127.2,407.1 128.2,407.2 129.1,407.2 130.1,407.3 131.0,407.3 132.0,407.4 133.0,407.4 133.9,407.5 134.9,407.6 135.8,407.7 136.8,407.7 137.7,407.8 138.7,407.9 139.7,408.0 140.6,408.1 141.6,408.2 142.5,408.4 143.5,408.5 144.5,408.6 145.4,408.8 146.4,409.0 147.3,409.2 148.3,409.4 149.3,409.6 150.2,409.9 151.2,410.2 152.1,410.5 153.1,410.8 154.1,411.2 155.0,411.6 156.0,412.1 156.9,412.6 157.9,413.1 158.8,413.7 159.8,414.4 160.8,415.2 161.7,416.0 162.7,416.9 163.6,417.9 164.6,419.1 165.6,420.3 166.5,421.7 167.5,423.2 168.4,424.8 169.4,426.7 170.4,428.7 171.3,430.9 172.3,433.3 173.2,435.9 174.2,438.8 175.2,442.0 176.1,445.4 177.1,449.2 178.0,453.3 179.0,457.7 180.0,462.5 180.9,467.6 181.6,471.8" fill="none" stroke="#49d177" stroke-width="1.35" stroke-linejoin="round"/>
<path d="M69.2,404.4 70.1,404.4 71.1,404.4 72.0,404.4 73.0,404.4 74.0,404.4 74.9,404.4 75.9,404.4 76.8,404.4 77.8,404.4 78.8,404.4 79.7,404.4 80.7,404.4 81.6,404.4 82.6,404.4 83.6,404.4 84.5,404.4 85.5,404.4 86.4,404.4 87.4,404.4 88.3,404.4 89.3,404.4 90.3,404.4 91.2,404.4 92.2,404.4 93.1,404.4 94.1,404.4 95.1,404.4 96.0,404.4 97.0,404.4 97.9,404.4 98.9,404.4 99.9,404.4 100.8,404.4 101.8,404.4 102.7,404.4 103.7,404.4 104.7,404.4 105.6,404.4 106.6,404.4 107.5,404.4 108.5,404.4 109.5,404.4 110.4,404.4 111.4,404.4 112.3,404.4 113.3,404.4 114.2,404.4 115.2,404.4 116.2,404.4 117.1,404.4 118.1,404.4 119.0,404.5 120.0,404.5 121.0,404.5 121.9,404.5 122.9,404.5 123.8,404.5 124.8,404.5 125.8,404.5 126.7,404.5 127.7,404.6 128.6,404.6 129.6,404.6 130.6,404.6 131.5,404.7 132.5,404.7 133.4,404.7 134.4,404.8 135.3,404.8 136.3,404.9 137.3,404.9 138.2,405.0 139.2,405.0 140.1,405.1 141.1,405.2 142.1,405.3 143.0,405.4 144.0,405.5 144.9,405.6 145.9,405.8 146.9,405.9 147.8,406.1 148.8,406.3 149.7,406.5 150.7,406.7 151.7,407.0 152.6,407.3 153.6,407.6 154.5,408.0 155.5,408.4 156.5,408.9 157.4,409.4 158.4,409.9 159.3,410.6 160.3,411.3 161.2,412.0 162.2,412.9 163.2,413.8 164.1,414.9 165.1,416.1 166.0,417.3 167.0,418.8 168.0,420.3 168.9,422.1 169.9,424.0 170.8,426.1 171.8,428.4 172.8,430.9 173.7,433.7 174.7,436.7 175.6,440.1 176.6,443.7 177.6,447.6 178.5,451.9 179.5,456.5 180.4,461.5 181.4,466.9 182.2,471.8" fill="none" stroke="#383838" stroke-width="1.35" stroke-linejoin="round"/>
<path d="M69.2,404.4 70.1,404.4 71.1,404.4 72.0,404.4 73.0,404.4 74.0,404.4 74.9,404.4 75.9,404.4 76.8,404.4 77.8,404.4 78.8,404.4 79.7,404.4 80.7,404.4 81.6,404.4 82.6,404.4 83.6,404.4 84.5,404.4 85.5,404.4 86.4,404.4 87.4,404.4 88.3,404.4 89.3,404.4 90.3,404.4 91.2,404.4 92.2,404.4 93.1,404.4 94.1,404.4 95.1,404.4 96.0,404.4 97.0,404.5 97.9,404.5 98.9,404.5 99.9,404.5 100.8,404.5 101.8,404.5 102.7,404.5 103.7,404.5 104.7,404.5 105.6,404.5 106.6,404.5 107.5,404.5 108.5,404.5 109.5,404.5 110.4,404.5 111.4,404.5 112.3,404.5 113.3,404.5 114.2,404.5 115.2,404.5 116.2,404.5 117.1,404.5 118.1,404.5 119.0,404.5 120.0,404.6 121.0,404.6 121.9,404.6 122.9,404.6 123.8,404.6 124.8,404.6 125.8,404.6 126.7,404.6 127.7,404.7 128.6,404.7 129.6,404.7 130.6,404.7 131.5,404.8 132.5,404.8 133.4,404.8 134.4,404.9 135.3,404.9 136.3,405.0 137.3,405.0 138.2,405.1 139.2,405.1 140.1,405.2 141.1,405.3 142.1,405.4 143.0,405.5 144.0,405.6 144.9,405.7 145.9,405.9 146.9,406.0 147.8,406.2 148.8,406.4 149.7,406.6 150.7,406.9 151.7,407.1 152.6,407.4 153.6,407.8 154.5,408.1 155.5,408.6 156.5,409.0 157.4,409.5 158.4,410.1 159.3,410.7 160.3,411.4 161.2,412.2 162.2,413.0 163.2,414.0 164.1,415.0 165.1,416.2 166.0,417.5 167.0,418.9 168.0,420.5 168.9,422.2 169.9,424.1 170.8,426.2 171.8,428.5 172.8,431.1 173.7,433.8 174.7,436.9 175.6,440.2 176.6,443.8 177.6,447.7 178.5,452.0 179.5,456.6 180.4,461.6 181.4,467.0 182.2,471.8" fill="none" stroke="#3f3f8c" stroke-width="1.35" stroke-linejoin="round"/>
<path d="M49.50,394.20 V471.80" fill="none" stroke="#000" stroke-width="1.25"/>
<path d="M48.90,471.80 H217.80" fill="none" stroke="#000" stroke-width="1.5"/>
<path d="M49.50,471.80 V469.60" stroke="#2a2a2a" stroke-width="1.1"/>
<text x="48.50" y="486.10" text-anchor="middle">0</text>
<path d="M97.30,471.80 V469.60" stroke="#2a2a2a" stroke-width="1.1"/>
<text x="96.30" y="486.10" text-anchor="middle">0.2</text>
<path d="M144.60,471.80 V469.60" stroke="#2a2a2a" stroke-width="1.1"/>
<text x="143.60" y="486.10" text-anchor="middle">0.4</text>
<path d="M193.45,471.80 V469.60" stroke="#2a2a2a" stroke-width="1.1"/>
<text x="192.45" y="486.10" text-anchor="middle">0.6</text>
<path d="M49.50,471.80 H51.70" stroke="#2a2a2a" stroke-width="1.1"/>
<text x="45.30" y="476.30" text-anchor="end">0</text>
<path d="M49.50,433.00 H51.70" stroke="#2a2a2a" stroke-width="1.1"/>
<text x="45.30" y="437.50" text-anchor="end">0.5</text>
<path d="M49.50,394.20 H51.70" stroke="#2a2a2a" stroke-width="1.1"/>
<text x="45.30" y="398.70" text-anchor="end">1</text>
<text x="132.15" y="501.00" text-anchor="middle">Vout (V)</text>
<text transform="translate(20.20,434.00) rotate(-90)" text-anchor="middle">Iout (A)</text>
<path d="M270.8,471.8 271.7,471.3 272.7,470.7 273.7,470.2 274.6,469.6 275.6,469.1 276.6,468.6 277.5,468.0 278.5,467.5 279.5,466.9 280.4,466.4 281.4,465.9 282.4,465.3 283.3,464.8 284.3,464.2 285.3,463.7 286.2,463.2 287.2,462.6 288.2,462.1 289.1,461.5 290.1,461.0 291.1,460.5 292.0,459.9 293.0,459.4 294.0,458.9 294.9,458.3 295.9,457.8 296.9,457.2 297.9,456.7 298.8,456.2 299.8,455.6 300.8,455.1 301.7,454.5 302.7,454.0 303.7,453.5 304.6,452.9 305.6,452.4 306.6,451.8 307.5,451.3 308.5,450.8 309.5,450.2 310.4,449.7 311.4,449.1 312.4,448.6 313.3,448.1 314.3,447.5 315.3,447.0 316.2,446.4 317.2,445.9 318.2,445.4 319.2,444.8 320.1,444.3 321.1,443.7 322.1,443.2 323.0,442.7 324.0,442.1 325.0,441.6 325.9,441.0 326.9,440.5 327.9,440.0 328.8,439.4 329.8,438.9 330.8,438.4 331.7,437.8 332.7,437.3 333.7,436.7 334.6,436.2 335.6,435.7 336.6,435.1 337.5,434.6 338.5,434.0 339.5,433.5 340.4,433.0 341.4,432.4 342.4,431.9 343.4,431.3 344.3,430.8 345.3,430.3 346.3,429.7 347.2,429.2 348.2,428.6 349.2,428.1 350.1,427.6 351.1,427.0 352.1,426.5 353.0,425.9 354.0,425.4 355.0,424.9 355.9,424.3 356.9,423.8 357.9,423.2 358.8,422.7 359.8,422.2 360.8,421.6 361.7,421.1 362.7,420.6 363.7,420.0 364.6,419.5 365.6,418.9 366.6,418.4 367.6,417.9 368.5,417.3 369.5,416.8 370.5,416.3 371.4,415.7 372.4,415.2 373.4,414.6 374.3,414.1 375.3,413.6 376.3,413.1 377.2,412.5 378.2,412.0 379.2,411.5 380.1,411.0 381.1,410.5 382.1,410.0 383.0,409.5 384.0,409.0 385.0,408.5 385.9,408.0 386.9,407.6 387.9,407.2 388.8,406.7 389.8,406.4 390.8,406.0 391.8,405.7 392.7,405.5 393.7,405.3 394.7,405.2 395.6,405.2 396.6,405.3 397.6,405.6 398.5,406.0 399.5,406.7 400.5,407.6 401.4,408.8 402.4,410.3 403.4,412.4 404.3,415.0 405.3,418.2 406.3,422.3 407.2,427.4 408.2,433.7 409.2,441.5 410.1,451.0 411.1,462.8 411.7,471.8" fill="none" stroke="#c4505f" stroke-width="1.35" stroke-linejoin="round"/>
<path d="M270.8,471.8 271.7,471.3 272.7,470.7 273.7,470.2 274.6,469.6 275.6,469.1 276.6,468.6 277.5,468.0 278.5,467.5 279.5,466.9 280.4,466.4 281.4,465.9 282.4,465.3 283.3,464.8 284.3,464.2 285.3,463.7 286.2,463.2 287.2,462.6 288.2,462.1 289.1,461.6 290.1,461.0 291.1,460.5 292.0,459.9 293.0,459.4 294.0,458.9 294.9,458.3 295.9,457.8 296.9,457.2 297.9,456.7 298.8,456.2 299.8,455.6 300.8,455.1 301.7,454.5 302.7,454.0 303.7,453.5 304.6,452.9 305.6,452.4 306.6,451.8 307.5,451.3 308.5,450.8 309.5,450.2 310.4,449.7 311.4,449.1 312.4,448.6 313.3,448.1 314.3,447.5 315.3,447.0 316.2,446.5 317.2,445.9 318.2,445.4 319.2,444.8 320.1,444.3 321.1,443.8 322.1,443.2 323.0,442.7 324.0,442.1 325.0,441.6 325.9,441.1 326.9,440.5 327.9,440.0 328.8,439.4 329.8,438.9 330.8,438.4 331.7,437.8 332.7,437.3 333.7,436.8 334.6,436.2 335.6,435.7 336.6,435.1 337.5,434.6 338.5,434.1 339.5,433.5 340.4,433.0 341.4,432.5 342.4,431.9 343.4,431.4 344.3,430.9 345.3,430.3 346.3,429.8 347.2,429.3 348.2,428.8 349.2,428.2 350.1,427.7 351.1,427.2 352.1,426.7 353.0,426.1 354.0,425.6 355.0,425.1 355.9,424.6 356.9,424.1 357.9,423.6 358.8,423.1 359.8,422.6 360.8,422.1 361.7,421.6 362.7,421.1 363.7,420.7 364.6,420.2 365.6,419.8 366.6,419.3 367.6,418.9 368.5,418.5 369.5,418.1 370.5,417.7 371.4,417.4 372.4,417.0 373.4,416.7 374.3,416.5 375.3,416.2 376.3,416.0 377.2,415.8 378.2,415.7 379.2,415.6 380.1,415.6 381.1,415.7 382.1,415.8 383.0,416.0 384.0,416.3 385.0,416.6 385.9,417.1 386.9,417.7 387.9,418.5 388.8,419.3 389.8,420.4 390.8,421.6 391.8,423.0 392.7,424.6 393.7,426.5 394.7,428.6 395.6,431.0 396.6,433.7 397.6,436.8 398.5,440.1 399.5,443.9 400.5,448.1 401.4,452.7 402.4,457.8 403.4,463.4 404.3,469.5 404.7,471.8" fill="none" stroke="#383838" stroke-width="1.35" stroke-linejoin="round"/>
<path d="M270.8,471.8 271.7,471.3 272.7,470.7 273.7,470.2 274.6,469.6 275.6,469.1 276.6,468.6 277.5,468.0 278.5,467.5 279.5,466.9 280.4,466.4 281.4,465.9 282.4,465.3 283.3,464.8 284.3,464.3 285.3,463.7 286.2,463.2 287.2,462.6 288.2,462.1 289.1,461.6 290.1,461.0 291.1,460.5 292.0,459.9 293.0,459.4 294.0,458.9 294.9,458.3 295.9,457.8 296.9,457.2 297.9,456.7 298.8,456.2 299.8,455.6 300.8,455.1 301.7,454.6 302.7,454.0 303.7,453.5 304.6,452.9 305.6,452.4 306.6,451.9 307.5,451.3 308.5,450.8 309.5,450.2 310.4,449.7 311.4,449.2 312.4,448.6 313.3,448.1 314.3,447.6 315.3,447.0 316.2,446.5 317.2,445.9 318.2,445.4 319.2,444.9 320.1,444.3 321.1,443.8 322.1,443.2 323.0,442.7 324.0,442.2 325.0,441.6 325.9,441.1 326.9,440.6 327.9,440.0 328.8,439.5 329.8,438.9 330.8,438.4 331.7,437.9 332.7,437.3 333.7,436.8 334.6,436.3 335.6,435.7 336.6,435.2 337.5,434.7 338.5,434.1 339.5,433.6 340.4,433.1 341.4,432.5 342.4,432.0 343.4,431.5 344.3,430.9 345.3,430.4 346.3,429.9 347.2,429.3 348.2,428.8 349.2,428.3 350.1,427.8 351.1,427.2 352.1,426.7 353.0,426.2 354.0,425.7 355.0,425.2 355.9,424.7 356.9,424.2 357.9,423.7 358.8,423.2 359.8,422.7 360.8,422.2 361.7,421.7 362.7,421.2 363.7,420.8 364.6,420.3 365.6,419.9 366.6,419.4 367.6,419.0 368.5,418.6 369.5,418.2 370.5,417.8 371.4,417.5 372.4,417.2 373.4,416.9 374.3,416.6 375.3,416.3 376.3,416.1 377.2,416.0 378.2,415.8 379.2,415.8 380.1,415.7 381.1,415.8 382.1,415.9 383.0,416.1 384.0,416.4 385.0,416.8 385.9,417.3 386.9,417.9 387.9,418.6 388.8,419.5 389.8,420.5 390.8,421.7 391.8,423.2 392.7,424.8 393.7,426.6 394.7,428.8 395.6,431.2 396.6,433.9 397.6,436.9 398.5,440.3 399.5,444.1 400.5,448.3 401.4,452.9 402.4,458.0 403.4,463.6 404.3,469.7 404.7,471.8" fill="none" stroke="#3f3f8c" stroke-width="1.35" stroke-linejoin="round"/>
<path d="M270.8,471.8 271.7,471.3 272.7,470.7 273.7,470.2 274.6,469.6 275.6,469.1 276.6,468.6 277.5,468.0 278.5,467.5 279.5,467.0 280.4,466.4 281.4,465.9 282.4,465.4 283.3,464.8 284.3,464.3 285.3,463.8 286.2,463.2 287.2,462.7 288.2,462.2 289.1,461.6 290.1,461.1 291.1,460.6 292.0,460.1 293.0,459.5 294.0,459.0 294.9,458.5 295.9,458.0 296.9,457.4 297.9,456.9 298.8,456.4 299.8,455.9 300.8,455.3 301.7,454.8 302.7,454.3 303.7,453.8 304.6,453.2 305.6,452.7 306.6,452.2 307.5,451.7 308.5,451.2 309.5,450.6 310.4,450.1 311.4,449.6 312.4,449.1 313.3,448.6 314.3,448.1 315.3,447.5 316.2,447.0 317.2,446.5 318.2,446.0 319.2,445.5 320.1,445.0 321.1,444.4 322.1,443.9 323.0,443.4 324.0,442.9 325.0,442.4 325.9,441.9 326.9,441.4 327.9,440.9 328.8,440.4 329.8,439.9 330.8,439.3 331.7,438.8 332.7,438.3 333.7,437.8 334.6,437.3 335.6,436.8 336.6,436.3 337.5,435.8 338.5,435.3 339.5,434.8 340.4,434.3 341.4,433.8 342.4,433.3 343.4,432.8 344.3,432.3 345.3,431.8 346.3,431.3 347.2,430.9 348.2,430.4 349.2,429.9 350.1,429.4 351.1,428.9 352.1,428.4 353.0,428.0 354.0,427.5 355.0,427.0 355.9,426.5 356.9,426.1 357.9,425.6 358.8,425.2 359.8,424.7 360.8,424.3 361.7,423.8 362.7,423.4 363.7,423.0 364.6,422.6 365.6,422.2 366.6,421.8 367.6,421.4 368.5,421.0 369.5,420.7 370.5,420.4 371.4,420.1 372.4,419.8 373.4,419.5 374.3,419.3 375.3,419.1 376.3,418.9 377.2,418.8 378.2,418.7 379.2,418.7 380.1,418.8 381.1,418.8 382.1,419.0 383.0,419.3 384.0,419.6 385.0,420.0 385.9,420.5 386.9,421.2 387.9,422.0 388.8,422.9 389.8,424.0 390.8,425.2 391.8,426.7 392.7,428.3 393.7,430.2 394.7,432.4 395.6,434.8 396.6,437.5 397.6,440.6 398.5,444.0 399.5,447.7 400.5,451.9 401.4,456.6 402.4,461.6 403.4,467.2 404.1,471.8" fill="none" stroke="#49d177" stroke-width="1.35" stroke-linejoin="round"/>
<path d="M270.75,394.20 V471.80" fill="none" stroke="#000" stroke-width="1.25"/>
<path d="M270.15,471.80 H440.50" fill="none" stroke="#000" stroke-width="1.5"/>
<path d="M270.75,471.80 V469.60" stroke="#2a2a2a" stroke-width="1.1"/>
<text x="269.75" y="486.10" text-anchor="middle">0</text>
<path d="M318.40,471.80 V469.60" stroke="#2a2a2a" stroke-width="1.1"/>
<text x="317.40" y="486.10" text-anchor="middle">0.2</text>
<path d="M367.30,471.80 V469.60" stroke="#2a2a2a" stroke-width="1.1"/>
<text x="366.30" y="486.10" text-anchor="middle">0.4</text>
<path d="M415.90,471.80 V469.60" stroke="#2a2a2a" stroke-width="1.1"/>
<text x="414.90" y="486.10" text-anchor="middle">0.6</text>
<path d="M270.75,471.80 H272.95" stroke="#2a2a2a" stroke-width="1.1"/>
<text x="266.80" y="476.30" text-anchor="end">0</text>
<path d="M270.75,440.76 H272.95" stroke="#2a2a2a" stroke-width="1.1"/>
<text x="266.80" y="445.26" text-anchor="end">0.2</text>
<path d="M270.75,409.72 H272.95" stroke="#2a2a2a" stroke-width="1.1"/>
<text x="266.80" y="414.22" text-anchor="end">0.4</text>
<text x="354.12" y="501.00" text-anchor="middle">Vout (V)</text>
<text transform="translate(242.00,434.60) rotate(-90)" text-anchor="middle">Pout (W)</text>
<text transform="translate(59.6,460.00) scale(0.93,1)">T=10<tspan dy="-3.6" font-size="9.5px" dx="-0.3">o</tspan><tspan dy="3.6" dx="-0.2">C</tspan></text>
<text x="57.2" y="16.9">G=100W/m<tspan dy="-5.3" font-size="9.5px">2</tspan></text>
<rect x="4.5" y="504.5" width="235" height="39.1" fill="#fff" stroke="#000" stroke-width="1.15"/>
<rect x="247.5" y="504.5" width="229" height="39.1" fill="#fff" stroke="#000" stroke-width="1.15"/>
<path d="M11.25,515 H48.75" stroke="#c4505f" stroke-width="1.8"/>
<path d="M11.25,532 H48.75" stroke="#383838" stroke-width="1.8"/>
<path d="M254.5,515 H291.25" stroke="#3f3f8c" stroke-width="1.8"/>
<path d="M254.5,532 H291.25" stroke="#49d177" stroke-width="1.8"/>
<text x="52.5" y="520">1d Rs=0&#937;-Rp=inf (m=1)</text>
<text x="52.5" y="539.0">1d Rs=0.01&#937;-Rp=1000&#937; (m=1.5)</text>
<text x="295.8" y="520">1d Rs=0.01&#937;-Rp=200&#937; (m=1.5)</text>
<text x="295.8" y="539.0">1d Rs=0.01&#937;-Rp=10&#937; (m=1.5)</text>
</g></svg></body></html>
